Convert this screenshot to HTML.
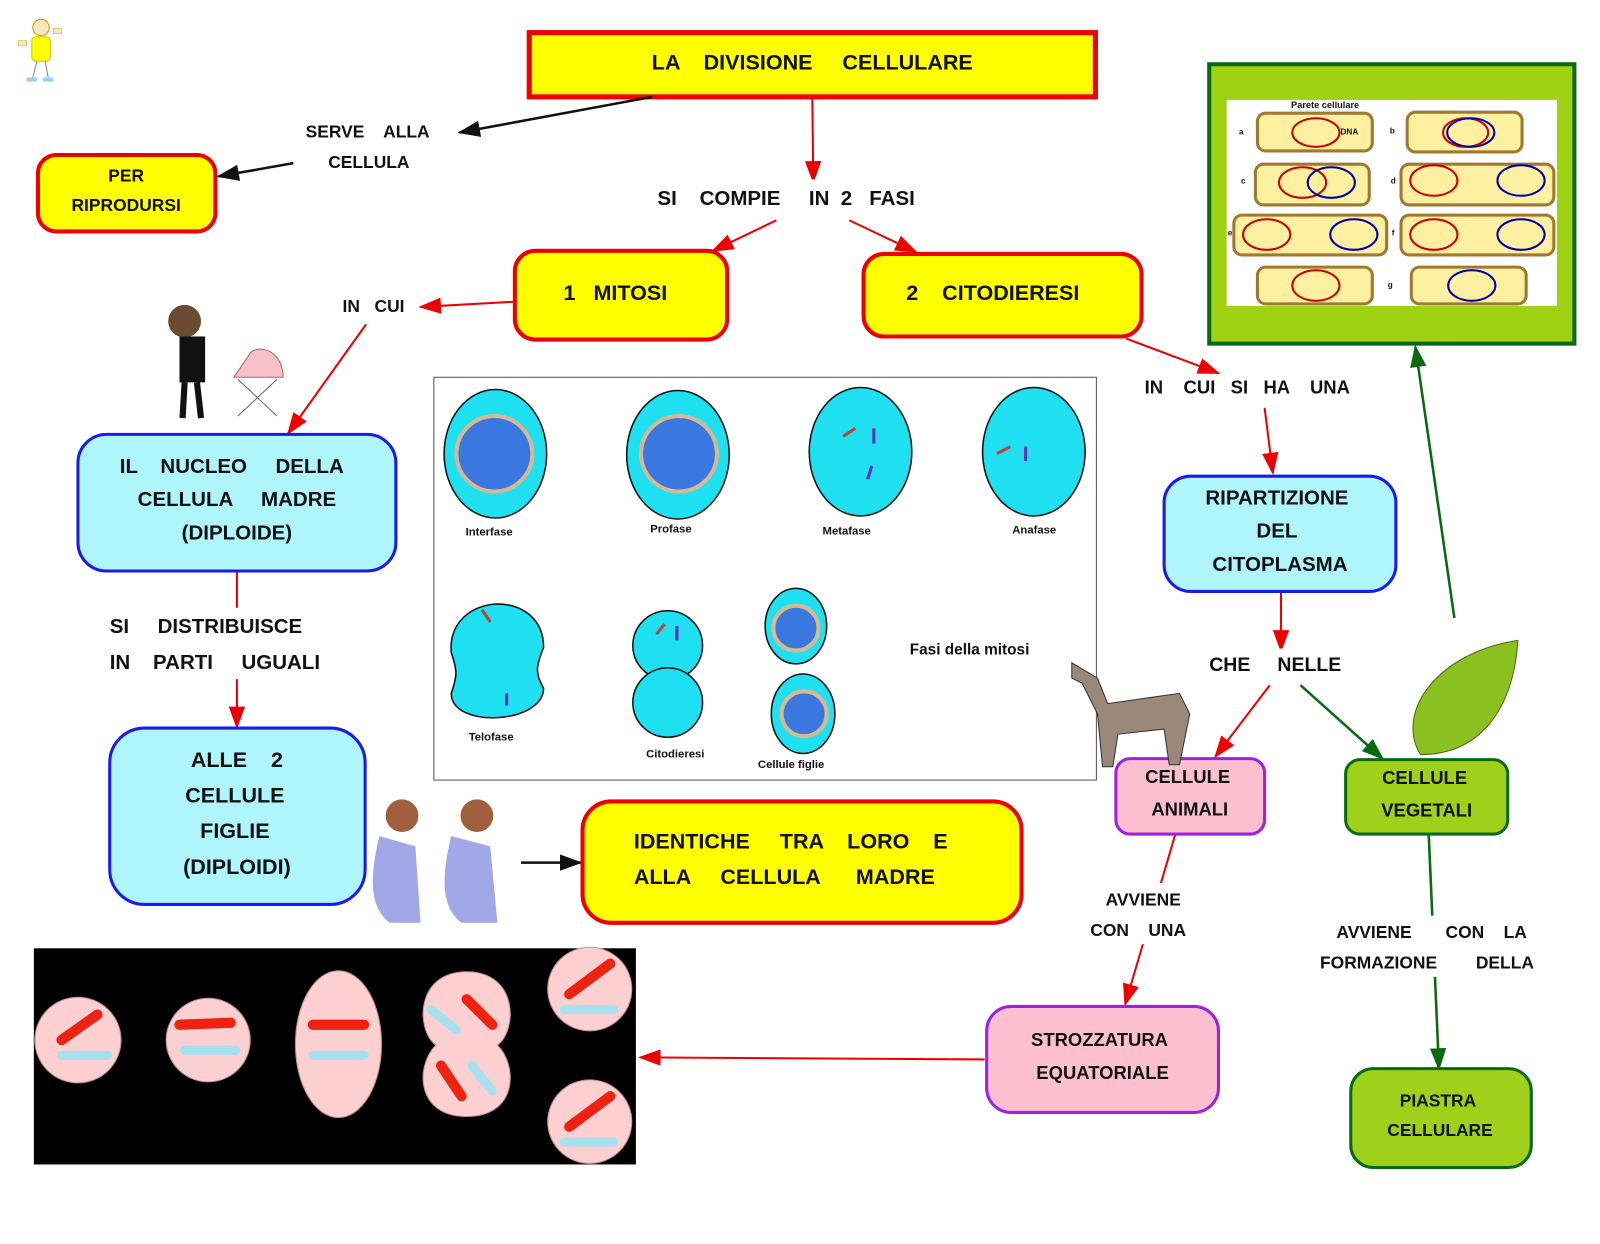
<!DOCTYPE html>
<html><head><meta charset="utf-8"><style>
html,body{margin:0;padding:0;background:#fff;}
svg{display:block;}
text{font-family:"Liberation Sans",Arial,sans-serif;font-weight:bold;fill:#111;}
</style></head><body>
<svg width="1600" height="1244" viewBox="0 0 1560 1220" preserveAspectRatio="none" xmlns="http://www.w3.org/2000/svg">
<defs>
<marker id="ar" markerWidth="10" markerHeight="10" refX="9" refY="5" orient="auto" markerUnits="userSpaceOnUse"><path d="M0,0 L10,5 L0,10 z" fill="#e00"/></marker>
<marker id="ab" markerWidth="22" markerHeight="16" refX="20" refY="8" orient="auto" markerUnits="userSpaceOnUse"><path d="M0,0 L22,8 L0,16 z" fill="#111"/></marker>
<marker id="arr" markerWidth="22" markerHeight="16" refX="20" refY="8" orient="auto" markerUnits="userSpaceOnUse"><path d="M0,0 L22,8 L0,16 z" fill="#e00"/></marker>
<marker id="ag" markerWidth="22" markerHeight="16" refX="20" refY="8" orient="auto" markerUnits="userSpaceOnUse"><path d="M0,0 L22,8 L0,16 z" fill="#0a6a10"/></marker>
</defs>

<!-- little figure -->
<circle cx="40" cy="27" r="8" fill="#fde8c0" stroke="#c90" stroke-width="1"/>
<rect x="31" y="36" width="18" height="24" rx="4" fill="#ff0" stroke="#cc0"/>
<line x1="36" y1="60" x2="32" y2="76" stroke="#888"/><line x1="44" y1="60" x2="47" y2="76" stroke="#888"/>
<rect x="26" y="76" width="10" height="4" fill="#9cf"/><rect x="42" y="76" width="10" height="4" fill="#9cf"/>
<rect x="18" y="40" width="8" height="5" fill="#fde8c0" stroke="#c90" stroke-width=".5"/><rect x="52" y="28" width="8" height="5" fill="#fde8c0" stroke="#c90" stroke-width=".5"/>

<!-- title -->
<rect x="516" y="32" width="552" height="63" fill="#ff0" stroke="#e00" stroke-width="5"/>
<text x="792" y="68" font-size="21" text-anchor="middle" xml:space="preserve">LA    DIVISIONE     CELLULARE</text>

<!-- connectors -->
<line x1="636" y1="95" x2="448" y2="130" stroke="#111" stroke-width="2.5" marker-end="url(#ab)"/>
<line x1="286" y1="160" x2="213" y2="173" stroke="#111" stroke-width="2.5" marker-end="url(#ab)"/>
<line x1="792" y1="97" x2="793" y2="178" stroke="#e00" stroke-width="2" marker-end="url(#arr)"/>
<line x1="757" y1="216" x2="695" y2="246" stroke="#e00" stroke-width="2" marker-end="url(#arr)"/>
<line x1="828" y1="216" x2="893" y2="247" stroke="#e00" stroke-width="2" marker-end="url(#arr)"/>
<line x1="500" y1="296" x2="410" y2="301" stroke="#e00" stroke-width="2" marker-end="url(#arr)"/>
<line x1="357" y1="318" x2="281" y2="425" stroke="#e00" stroke-width="2" marker-end="url(#arr)"/>
<line x1="231" y1="561" x2="231" y2="713" stroke="#e00" stroke-width="2" marker-end="url(#arr)"/>
<line x1="508" y1="846" x2="566" y2="846" stroke="#111" stroke-width="2.5" marker-end="url(#ab)"/>
<line x1="1098" y1="332" x2="1188" y2="366" stroke="#e00" stroke-width="2" marker-end="url(#arr)"/>
<line x1="1233" y1="400" x2="1241" y2="464" stroke="#e00" stroke-width="2" marker-end="url(#arr)"/>
<line x1="1249" y1="581" x2="1249" y2="638" stroke="#e00" stroke-width="2" marker-end="url(#arr)"/>
<line x1="1238" y1="672" x2="1185" y2="742" stroke="#e00" stroke-width="2" marker-end="url(#arr)"/>
<line x1="1268" y1="672" x2="1348" y2="744" stroke="#0a6a10" stroke-width="2.5" marker-end="url(#ag)"/>
<line x1="1418" y1="606" x2="1380" y2="340" stroke="#0a6a10" stroke-width="2.5" marker-end="url(#ag)"/>
<line x1="1146" y1="818" x2="1097" y2="985" stroke="#e00" stroke-width="2" marker-end="url(#arr)"/>
<line x1="1393" y1="818" x2="1403" y2="1048" stroke="#0a6a10" stroke-width="2.5" marker-end="url(#ag)"/>
<line x1="960" y1="1039" x2="624" y2="1037" stroke="#e00" stroke-width="2" marker-end="url(#arr)"/>

<!-- link labels (white bg) -->
<g font-size="17">
<rect x="290" y="114" width="155" height="60" fill="#fff"/>
<text x="298" y="135" xml:space="preserve">SERVE    ALLA</text>
<text x="320" y="165">CELLULA</text>
<rect x="630" y="176" width="312" height="36" fill="#fff"/>
<text x="641" y="201" font-size="20" xml:space="preserve">SI    COMPIE     IN  2   FASI</text>
<text x="334" y="306" xml:space="preserve">IN   CUI</text>
<rect x="100" y="596" width="250" height="70" fill="#fff"/>
<text x="107" y="621" font-size="20" xml:space="preserve">SI     DISTRIBUISCE</text>
<text x="107" y="656" font-size="20" xml:space="preserve">IN    PARTI     UGUALI</text>
<text x="1116" y="386" font-size="18" xml:space="preserve">IN    CUI   SI   HA    UNA</text>
<rect x="1172" y="636" width="155" height="30" fill="#fff"/>
<text x="1179" y="658" font-size="19" xml:space="preserve">CHE     NELLE</text>
<rect x="1062" y="866" width="110" height="60" fill="#fff"/>
<text x="1078" y="888">AVVIENE</text>
<text x="1063" y="918" xml:space="preserve">CON    UNA</text>
<rect x="1285" y="898" width="230" height="60" fill="#fff"/>
<text x="1303" y="920" xml:space="preserve">AVVIENE       CON    LA</text>
<text x="1287" y="950" xml:space="preserve">FORMAZIONE        DELLA</text>
</g>

<!-- nodes -->
<rect x="37" y="152" width="173" height="75" rx="18" fill="#ff0" stroke="#e00" stroke-width="4"/>
<text x="123" y="178" font-size="17" text-anchor="middle">PER</text>
<text x="123" y="207" font-size="17" text-anchor="middle">RIPRODURSI</text>

<rect x="502" y="246" width="207" height="87" rx="20" fill="#ff0" stroke="#e00" stroke-width="4"/>
<text x="600" y="294" font-size="21" text-anchor="middle" xml:space="preserve">1   MITOSI</text>
<rect x="842" y="249" width="271" height="81" rx="20" fill="#ff0" stroke="#e00" stroke-width="4"/>
<text x="968" y="294" font-size="21" text-anchor="middle" xml:space="preserve">2    CITODIERESI</text>

<rect x="76" y="426" width="310" height="134" rx="28" fill="#aef6fb" stroke="#1a1aee" stroke-width="3"/>
<g font-size="20" text-anchor="middle">
<text x="226" y="464" xml:space="preserve">IL    NUCLEO     DELLA</text>
<text x="231" y="496" xml:space="preserve">CELLULA     MADRE</text>
<text x="231" y="529">(DIPLOIDE)</text>
</g>

<rect x="107" y="714" width="249" height="173" rx="34" fill="#aef6fb" stroke="#1a1aee" stroke-width="3"/>
<g font-size="21" text-anchor="middle">
<text x="231" y="752" xml:space="preserve">ALLE    2</text>
<text x="229" y="787">CELLULE</text>
<text x="229" y="822">FIGLIE</text>
<text x="231" y="857">(DIPLOIDI)</text>
</g>

<rect x="568" y="786" width="428" height="119" rx="28" fill="#ff0" stroke="#e00" stroke-width="4"/>
<g font-size="21">
<text x="618" y="832" xml:space="preserve">IDENTICHE     TRA    LORO    E</text>
<text x="618" y="867" xml:space="preserve">ALLA     CELLULA      MADRE</text>
</g>

<rect x="1135" y="467" width="226" height="113" rx="26" fill="#aef6fb" stroke="#1a1aee" stroke-width="3"/>
<g font-size="20" text-anchor="middle">
<text x="1245" y="495">RIPARTIZIONE</text>
<text x="1245" y="527">DEL</text>
<text x="1248" y="560">CITOPLASMA</text>
</g>

<rect x="1088" y="744" width="145" height="74" rx="14" fill="#fbbfcf" stroke="#a020e0" stroke-width="3"/>
<text x="1158" y="768" font-size="18" text-anchor="middle">CELLULE</text>
<text x="1160" y="800" font-size="18" text-anchor="middle">ANIMALI</text>

<rect x="1312" y="745" width="158" height="73" rx="14" fill="#9fd01a" stroke="#0a6a10" stroke-width="3"/>
<text x="1389" y="769" font-size="18" text-anchor="middle">CELLULE</text>
<text x="1391" y="801" font-size="18" text-anchor="middle">VEGETALI</text>

<rect x="962" y="987" width="226" height="104" rx="24" fill="#fbbfcf" stroke="#a020e0" stroke-width="3"/>
<text x="1072" y="1026" font-size="18" text-anchor="middle">STROZZATURA</text>
<text x="1075" y="1058" font-size="18" text-anchor="middle">EQUATORIALE</text>

<rect x="1317" y="1048" width="176" height="97" rx="22" fill="#9fd01a" stroke="#0a6a10" stroke-width="3"/>
<text x="1402" y="1085" font-size="17" text-anchor="middle">PIASTRA</text>
<text x="1404" y="1114" font-size="17" text-anchor="middle">CELLULARE</text>

<!-- green image box -->
<rect x="1179" y="63" width="356" height="274" fill="#a0d214" stroke="#0a6a10" stroke-width="4"/>
<rect x="1196" y="98" width="322" height="202" fill="#fff"/>
<text x="1292" y="106" font-size="9" font-weight="normal" font-family="Liberation Serif" text-anchor="middle">Parete cellulare</text>
<g fill="#fdf0a0" stroke="#a07830" stroke-width="3">
<rect x="1226" y="111" width="112" height="37" rx="8"/>
<rect x="1372" y="110" width="112" height="39" rx="8"/>
<rect x="1224" y="161" width="111" height="40" rx="8"/>
<rect x="1366" y="161" width="149" height="40" rx="8"/>
<rect x="1203" y="211" width="149" height="39" rx="8"/>
<rect x="1366" y="211" width="149" height="39" rx="8"/>
<rect x="1226" y="262" width="112" height="36" rx="8"/>
<rect x="1376" y="262" width="112" height="36" rx="8"/>
</g>
<g fill="none" stroke-width="2">
<ellipse cx="1283" cy="130" rx="23" ry="14" stroke="#c00"/>
<ellipse cx="1429" cy="130" rx="22" ry="14" stroke="#c00"/><ellipse cx="1434" cy="130" rx="23" ry="14" stroke="#00a"/>
<ellipse cx="1270" cy="179" rx="23" ry="15" stroke="#c00"/><ellipse cx="1298" cy="179" rx="23" ry="15" stroke="#00a"/>
<ellipse cx="1398" cy="177" rx="23" ry="15" stroke="#c00"/><ellipse cx="1483" cy="177" rx="23" ry="15" stroke="#00a"/>
<ellipse cx="1235" cy="230" rx="23" ry="15" stroke="#c00"/><ellipse cx="1320" cy="230" rx="23" ry="15" stroke="#00a"/>
<ellipse cx="1398" cy="230" rx="23" ry="15" stroke="#c00"/><ellipse cx="1483" cy="230" rx="23" ry="15" stroke="#00a"/>
<ellipse cx="1283" cy="280" rx="23" ry="15" stroke="#c00"/><ellipse cx="1435" cy="280" rx="23" ry="15" stroke="#00a"/>
</g>
<g font-size="8" font-weight="normal" font-family="Liberation Serif">
<text x="1208" y="132">a</text><text x="1355" y="131">b</text><text x="1210" y="180">c</text><text x="1356" y="180">d</text>
<text x="1197" y="231">e</text><text x="1357" y="231">f</text><text x="1353" y="282">g</text><text x="1307" y="132">DNA</text>
</g>

<!-- mitosis panel -->
<rect x="423" y="370" width="646" height="395" fill="#fff" stroke="#555" stroke-width="1"/>
<g stroke="#111" stroke-width="1.5" fill="#1ee0f0">
<ellipse cx="483" cy="445" rx="50" ry="63"/>
<ellipse cx="661" cy="446" rx="50" ry="63"/>
<ellipse cx="839" cy="443" rx="50" ry="63"/>
<ellipse cx="1008" cy="443" rx="50" ry="63"/>
<path d="M440,640 C435,580 530,575 530,635 C522,655 522,660 530,675 C530,710 440,715 440,680 C446,662 446,658 440,640 z"/>
<circle cx="651" cy="633" r="34"/><circle cx="651" cy="689" r="34"/>
<ellipse cx="776" cy="614" rx="30" ry="37"/><ellipse cx="783" cy="700" rx="31" ry="39"/>
</g>
<g fill="#3a78e0" stroke="#d8b890" stroke-width="4">
<circle cx="482" cy="445" r="37"/><circle cx="662" cy="445" r="37"/>
<circle cx="776" cy="616" r="22"/><circle cx="784" cy="700" r="22"/>
</g>
<g stroke="#c04040" stroke-width="3"><line x1="822" y1="428" x2="834" y2="420"/><line x1="972" y1="445" x2="985" y2="438"/><line x1="470" y1="598" x2="478" y2="610"/><line x1="640" y1="622" x2="648" y2="612"/></g>
<g stroke="#6030c0" stroke-width="3"><line x1="852" y1="420" x2="852" y2="435"/><line x1="850" y1="457" x2="846" y2="470"/><line x1="1000" y1="438" x2="1000" y2="452"/><line x1="660" y1="614" x2="660" y2="628"/><line x1="494" y1="680" x2="494" y2="692"/></g>
<g font-size="11" font-weight="normal" fill="#333">
<text x="454" y="525">Interfase</text><text x="634" y="522">Profase</text><text x="802" y="524">Metafase</text><text x="987" y="523">Anafase</text>
<text x="457" y="726">Telofase</text><text x="630" y="743">Citodieresi</text><text x="739" y="753">Cellule figlie</text>
</g>
<text x="887" y="642" font-size="15">Fasi della mitosi</text>

<!-- black panel -->
<rect x="33" y="930" width="587" height="212" fill="#000"/>
<g fill="#fcd0d0" stroke="#c09090" stroke-width="1">
<circle cx="76" cy="1020" r="42"/><circle cx="203" cy="1020" r="41"/>
<ellipse cx="330" cy="1024" rx="42" ry="72"/>
<path d="M455,953 C505,953 505,1010 485,1025 C505,1045 505,1095 455,1095 C405,1095 405,1045 425,1025 C405,1010 405,953 455,953 z"/>
<circle cx="575" cy="970" r="41"/><circle cx="575" cy="1100" r="41"/>
</g>
<g stroke="#e21" stroke-width="10" stroke-linecap="round" fill="none">
<line x1="60" y1="1020" x2="95" y2="995"/><line x1="175" y1="1005" x2="225" y2="1003"/><line x1="305" y1="1005" x2="355" y2="1005"/>
<line x1="455" y1="980" x2="480" y2="1005"/><line x1="430" y1="1045" x2="450" y2="1075"/><line x1="555" y1="975" x2="595" y2="945"/><line x1="555" y1="1105" x2="595" y2="1075"/>
</g>
<g stroke="#a8e0f0" stroke-width="9" stroke-linecap="round" fill="none">
<line x1="60" y1="1035" x2="105" y2="1035"/><line x1="180" y1="1030" x2="230" y2="1030"/><line x1="305" y1="1035" x2="355" y2="1035"/>
<line x1="420" y1="990" x2="445" y2="1010"/><line x1="460" y1="1045" x2="480" y2="1070"/><line x1="550" y1="990" x2="598" y2="990"/><line x1="550" y1="1120" x2="598" y2="1120"/>
</g>

<!-- decorative figures -->
<g>
<circle cx="180" cy="315" r="16" fill="#6a4a30"/><rect x="175" y="330" width="25" height="45" fill="#111"/><line x1="180" y1="375" x2="178" y2="410" stroke="#111" stroke-width="6"/><line x1="192" y1="375" x2="196" y2="410" stroke="#111" stroke-width="6"/>
<path d="M228,370 L276,370 C276,345 255,338 245,345 z" fill="#f8c0c8" stroke="#a66"/><line x1="232" y1="372" x2="270" y2="408" stroke="#666"/><line x1="270" y1="372" x2="232" y2="408" stroke="#666"/>
</g>
<g fill="#a0a8e8"><path d="M370,820 C360,860 360,890 380,905 L410,905 L405,830 z"/><path d="M440,820 C430,860 430,890 450,905 L485,905 L478,830 z"/></g>
<circle cx="392" cy="800" r="16" fill="#a06040"/><circle cx="465" cy="800" r="16" fill="#a06040"/>
<path d="M1045,650 L1070,665 L1080,690 L1150,680 L1160,700 L1150,750 L1140,750 L1135,715 L1090,720 L1085,752 L1075,752 L1070,700 L1055,670 L1045,665 z" fill="#9a8878" stroke="#333"/>
<path d="M1385,740 C1360,700 1400,640 1480,628 C1475,700 1440,740 1385,740 z" fill="#8ac020" stroke="#4a6a10"/>
</svg>
</body></html>
